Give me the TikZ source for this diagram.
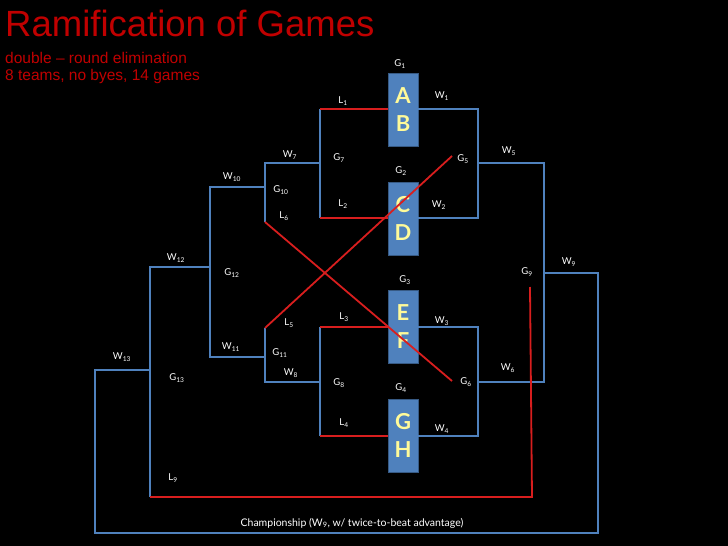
\documentclass[tikz,border=0pt]{standalone}
\usepackage{fontspec}
\setmainfont{Lato}
\newfontfamily\titlefont{Liberation Sans}
\begin{document}
\begin{tikzpicture}[x=1pt,y=-1pt,
  bl/.style={draw=blu,line width=1.6pt},
  rd/.style={draw=rdl,line width=1.8pt},
  lab/.style={text=white,font=\fontsize{9.5}{10}\selectfont,inner sep=0pt},
  teambox/.style={fill=blu,draw=blu!70!black,line width=0.8pt,minimum width=30pt,minimum height=73pt,inner sep=0pt,align=center,font=\bfseries\fontsize{22}{28}\selectfont,text=yellow!40}]
\definecolor{blu}{HTML}{4F81BD}
\definecolor{rdl}{HTML}{D81E1E}
\definecolor{ttl}{HTML}{C00000}
\fill[black] (0,0) rectangle (728,546);
\useasboundingbox (0,0) rectangle (728,546);
\node[anchor=north west,inner sep=0pt,text=ttl,font=\titlefont\fontsize{36.5}{40}\selectfont] (title) at (5,10) {Ramification of Games};
\node[anchor=north west,inner sep=0pt,text=ttl,font=\titlefont\fontsize{15.5}{17}\selectfont,align=left] (sub) at (5,52) {double – round elimination\\8 teams, no byes, 14 games};
% boxes
\node[teambox] (ab) at (403,109.5) {A\\B};
\node[teambox] (cd) at (403,218.5) {C\\D};
\node[teambox] (ef) at (403,327) {E\\F};
\node[teambox] (gh) at (403,435.5) {G\\H};
% coordinates
\coordinate (g5) at (478,163);
\coordinate (g6) at (478,382);
\coordinate (g9) at (544,273);
\coordinate (g7) at (320,163);
\coordinate (g8) at (320,382);
\coordinate (g10) at (265,187);
\coordinate (g11) at (265,357);
\coordinate (g12) at (210,267);
\coordinate (g13) at (150,370);
\coordinate (l5s) at (265,328);
\coordinate (l6s) at (265,222);
\coordinate (g5p) at (452,156);
\coordinate (g6p) at (452,381);
\coordinate (g9p) at (530,287);
% blue winners
\draw[bl] (ab.east |- 0,109) -| (g5) |- (cd.east |- 0,218);
\draw[bl] (ef.east |- 0,327) -| (g6) |- (gh.east |- 0,436);
\draw[bl] (g5) -- (544,163) -- (544,382) -- (g6);
\draw[bl] (g9) -- (598,273) -- (598,533) -- (95,533) -- (95,370) -- (g13);
\draw[bl] (320,109) -- (320,218);
\draw[bl] (320,327) -- (320,436);
\draw[bl] (g7) -- (265,163) -- (l6s);
\draw[bl] (g8) -- (265,382) -- (l5s);
\draw[bl] (g10) -- (210,187) -- (210,357) -- (g11);
\draw[bl] (g12) -- (150,267) -- (150,497);
% red losers
\draw[rd] (320,109) -- (ab.west |- 0,109);
\draw[rd] (320,218) -- (cd.west |- 0,218);
\draw[rd] (320,327) -- (ef.west |- 0,327);
\draw[rd] (320,436) -- (gh.west |- 0,436);
\draw[rd] (l5s) -- (g5p);
\draw[rd] (l6s) -- (g6p);
\draw[rd] (g9p) -- (532,497) -- (150,497);
% labels
\node[lab] (tg1) at (400,64) {G\textsubscript{1}};
\node[lab] (tw1) at (442,96) {W\textsubscript{1}};
\node[lab] (tl1) at (343,101) {L\textsubscript{1}};
\node[lab] (tg7) at (339,158) {G\textsubscript{7}};
\node[lab] (tw7) at (290,155) {W\textsubscript{7}};
\node[lab] (tg2) at (401,171) {G\textsubscript{2}};
\node[lab] (tl2) at (343,204) {L\textsubscript{2}};
\node[lab] (tw2) at (439,205) {W\textsubscript{2}};
\node[lab] (tg5) at (463,159) {G\textsubscript{5}};
\node[lab] (tw5) at (509,151) {W\textsubscript{5}};
\node[lab] (tw10) at (232,177) {W\textsubscript{10}};
\node[lab] (tg10) at (281,190) {G\textsubscript{10}};
\node[lab] (tl6) at (284,216) {L\textsubscript{6}};
\node[lab] (tg12) at (232,273) {G\textsubscript{12}};
\node[lab] (tw12) at (176,258) {W\textsubscript{12}};
\node[lab] (tw9) at (569,262) {W\textsubscript{9}};
\node[lab] (tg9) at (527,272) {G\textsubscript{9}};
\node[lab] (tg3) at (405,280) {G\textsubscript{3}};
\node[lab] (tl5) at (289,323) {L\textsubscript{5}};
\node[lab] (tl3) at (344,317) {L\textsubscript{3}};
\node[lab] (tw3) at (442,321) {W\textsubscript{3}};
\node[lab] (tw11) at (231,347) {W\textsubscript{11}};
\node[lab] (tg11) at (280,353) {G\textsubscript{11}};
\node[lab] (tw8) at (291,373) {W\textsubscript{8}};
\node[lab] (tg8) at (339,383) {G\textsubscript{8}};
\node[lab] (tg6) at (466,382) {G\textsubscript{6}};
\node[lab] (tw6) at (508,368) {W\textsubscript{6}};
\node[lab] (tg4) at (401,388) {G\textsubscript{4}};
\node[lab] (tl4) at (344,423) {L\textsubscript{4}};
\node[lab] (tw4) at (442,429) {W\textsubscript{4}};
\node[lab] (tw13) at (122,357) {W\textsubscript{13}};
\node[lab] (tg13) at (177,378) {G\textsubscript{13}};
\node[lab] (tl9) at (173,478) {L\textsubscript{9}};
\node[lab,font=\fontsize{10.5}{12}\selectfont] (champ) at (352,523) {Championship (W\textsubscript{9}, w/ twice-to-beat advantage)};
\end{tikzpicture}
\end{document}
